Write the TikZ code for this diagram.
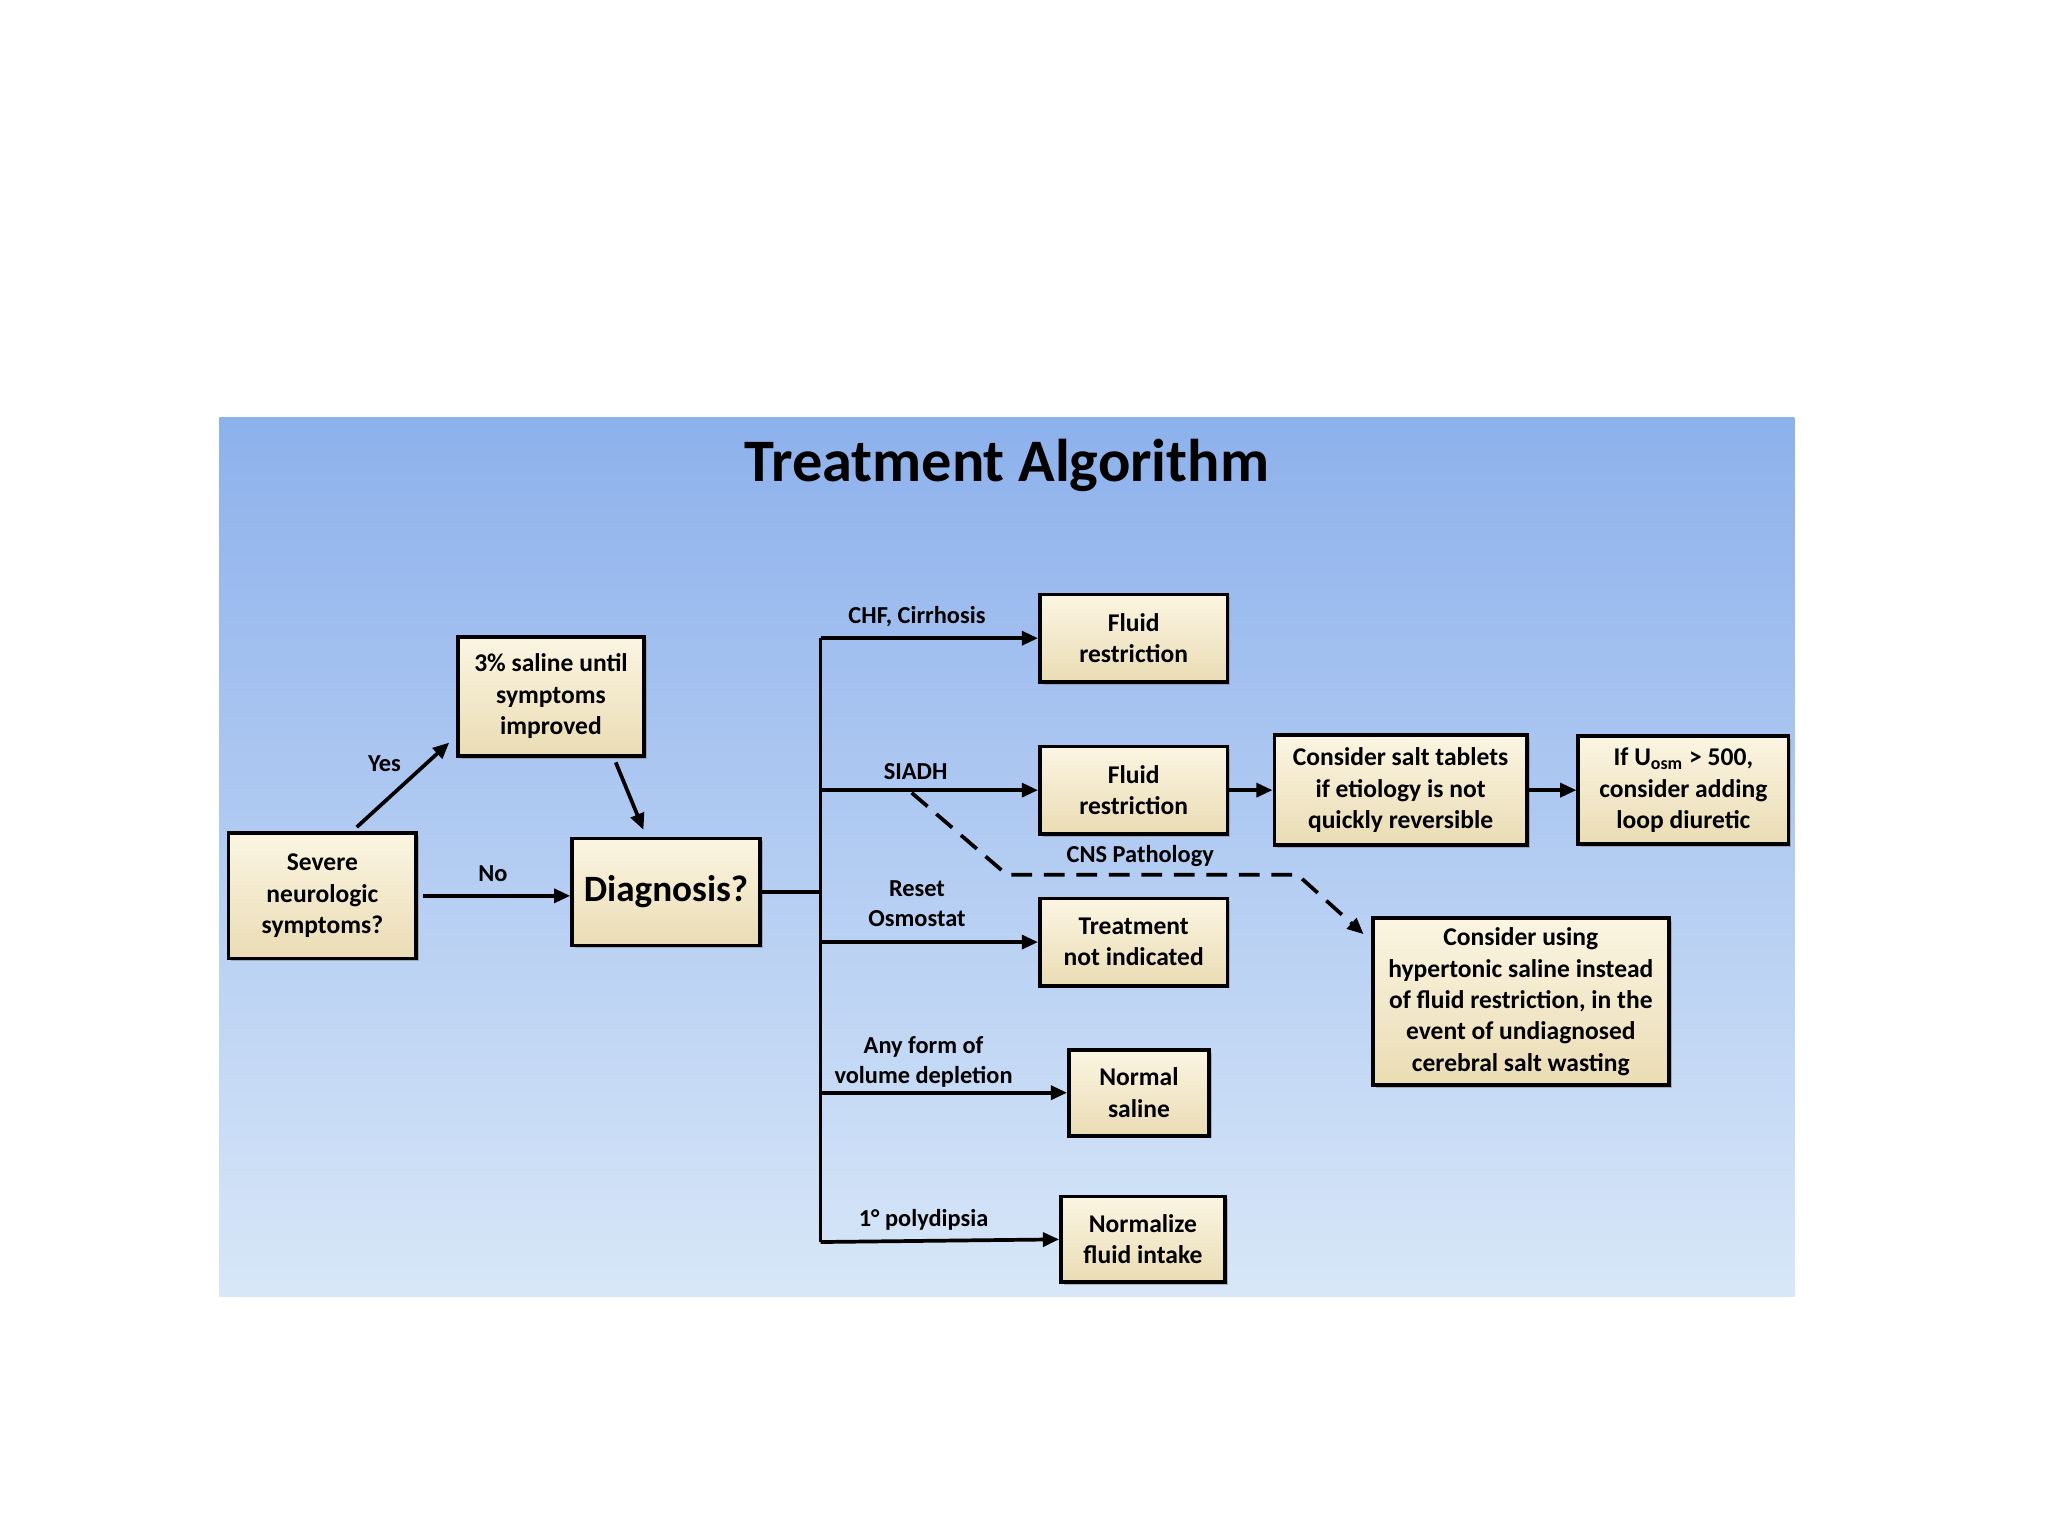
\documentclass[tikz,border=0pt]{standalone}
\usepackage{fontspec}
\setmainfont{Carlito}
\usetikzlibrary{arrows.meta,shadows}
\definecolor{bgtop}{HTML}{8DB1EC}
\definecolor{bgbot}{HTML}{D8E7F8}
\definecolor{boxtop}{HTML}{FBF5E2}
\definecolor{boxbot}{HTML}{EADCB4}
\begin{document}
\begin{tikzpicture}[x=0.02cm,y=-0.02cm,
  box/.style={draw=black, line width=1.6pt, top color=boxtop, bottom color=boxbot,
    align=center, font=\fontsize{11}{13.5}\selectfont\bfseries, inner sep=2pt,
    drop shadow={shadow xshift=1.2pt, shadow yshift=-1.2pt, opacity=0.5}},
  arr/.style={line width=1.6pt, -{Triangle[length=7pt,width=6pt]}},
  lbl/.style={font=\fontsize{10.5}{13}\selectfont\bfseries, align=center}]
\useasboundingbox (0,0) rectangle (1550,1162);
\fill[top color=bgtop, bottom color=bgbot] (166,316) rectangle (1358,981);
\node[font=\fontsize{26}{30}\selectfont\bfseries] (title) at (762,352) {Treatment Algorithm};

\node[box, minimum width=142*0.02cm, minimum height=95*0.02cm] (severe) at (244,678) {Severe\\neurologic\\symptoms?};
\node[box, minimum width=141*0.02cm, minimum height=90*0.02cm] (saline) at (417,527) {3\% saline until\\symptoms\\improved};
\node[box, minimum width=142*0.02cm, minimum height=81*0.02cm, font=\fontsize{16}{18}\selectfont\bfseries] (diag) at (504,675) {Diagnosis?};
\node[box, minimum width=142*0.02cm, minimum height=66*0.02cm] (fr1) at (858,483) {Fluid\\restriction};
\node[box, minimum width=142*0.02cm, minimum height=66*0.02cm] (fr2) at (858,598) {Fluid\\restriction};
\node[box, minimum width=191*0.02cm, minimum height=83*0.02cm] (salt) at (1060,598) {Consider salt tablets\\if etiology is not\\quickly reversible};
\node[box, minimum width=159*0.02cm, minimum height=82*0.02cm] (uosm) at (1274,598) {If U\textsubscript{osm} > 500,\\consider adding\\loop diuretic};
\node[box, minimum width=142*0.02cm, minimum height=66*0.02cm] (tni) at (858,713) {Treatment\\not indicated};
\node[box, minimum width=224*0.02cm, minimum height=126*0.02cm] (cons) at (1151,758) {Consider using\\hypertonic saline instead\\of fluid restriction, in the\\event of undiagnosed\\cerebral salt wasting};
\node[box, minimum width=106*0.02cm, minimum height=65*0.02cm] (ns) at (862,827) {Normal\\saline};
\node[box, minimum width=124*0.02cm, minimum height=65*0.02cm] (nfi) at (865,938) {Normalize\\fluid intake};

% left part
\coordinate (yesA) at (270,626);
\coordinate (yesB) at (340,562);
\draw[arr] (yesA) -- (yesB);
\node[lbl] (yes) at (291,578) {Yes};
\coordinate (noA) at (320,678);
\draw[arr] (noA) -- (noA -| diag.west);
\node[lbl] (no) at (373,661) {No};
\coordinate (sdA) at (466,577);
\coordinate (sdB) at (487,628);
\draw[arr] (sdA) -- (sdB);

% trunk
\coordinate (tr) at (621,675);
\coordinate (t1) at (621,483);
\coordinate (t5) at (621,940);
\draw[line width=1.6pt] (diag.east) -- (tr);
\draw[line width=1.6pt] (t1) -- (t5);
\draw[arr] (t1) -- (fr1.west);
\draw[arr] (621,598) -- (fr2.west);
\draw[arr] (621,713) -- (tni.west);
\draw[arr] (621,827) -- (ns.west);
\draw[arr] (621,940) -- (nfi.west);
\node[lbl] (l1) at (694,467) {CHF, Cirrhosis};
\node[lbl] (l2) at (693,584) {SIADH};
\node[lbl] (l3) at (694,684) {Reset\\Osmostat};
\node[lbl] (l4) at (699,804) {Any form of\\volume depletion};
\node[lbl] (l5) at (699,923) {1° polydipsia};
\node[lbl] (l6) at (863,648) {CNS Pathology};

\draw[arr] (fr2.east) -- (salt.west);
\draw[arr] (salt.east) -- (uosm.west);

% dashed CNS path
\coordinate (dA) at (690,600);
\draw[arr, dash pattern=on 9pt off 5pt] (dA) -- (762,662) -- (982,662) -- (1032,707);
\end{tikzpicture}
\end{document}
